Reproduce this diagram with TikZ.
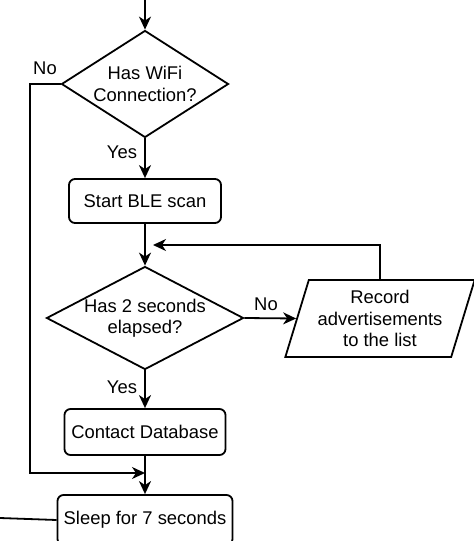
\documentclass[tikz,border=0pt]{standalone}
\usepackage{fontspec}
\setmainfont{Liberation Sans}
\usetikzlibrary{shapes.geometric,arrows.meta}
\tikzset{line/.style={line width=1.8pt}}
\tikzset{flow/.style={line width=1.8pt, -{Stealth[length=13pt,width=12pt,inset=4pt]}}}
\tikzset{decision/.style={draw, diamond, line width=1.8pt, inner sep=0pt, align=center}}
\tikzset{process/.style={draw, rectangle, rounded corners=6pt, line width=1.8pt, align=center}}
\tikzset{record/.style={draw, trapezium, trapezium left angle=73, trapezium right angle=107, line width=1.8pt, inner xsep=-10pt, inner ysep=0pt, align=center}}

\begin{document}
\begin{tikzpicture}[x=1pt, y=-1pt, font=\fontsize{18.4}{21.5}\selectfont]%{{{
        \useasboundingbox (0,0) rectangle (474,541);
        \clip (0,0) rectangle (474,541);

        \node[decision, aspect=1.56, minimum width=167pt, minimum height=107pt] (wifi) at (145,84) {Has WiFi\\Connection?};
        \node[process, minimum width=152pt, minimum height=44pt] (scan) at (145,201) {Start BLE scan};
        \node[decision, aspect=1.91, minimum width=197pt, minimum height=103pt] (elapsed) at (145,318) {Has 2 seconds\\elapsed?};
        \node[record, minimum width=169pt, minimum height=77pt] (rec) at (380,318.5) {Record\\advertisements\\to the list};
        \node[process, minimum width=161pt, minimum height=46pt] (db) at (145,432) {Contact Database};
        \node[process, minimum width=175pt, minimum height=50pt] (sleep) at (145,520) {Sleep for 7 seconds};

        \node (no1) at (45,68) {No};
        \node (yes1) at (122,152) {Yes};
        \node (no2) at (266,304) {No};
        \node (yes2) at (122,387) {Yes};

        \coordinate (entry) at (145,-5);
        \coordinate (join) at (145,473);
        \coordinate (loop) at (153,245);
        \coordinate (offleft) at (0,518);

        \draw [flow] (entry) -- (wifi.north);
        \draw [flow] (wifi.south) -- (scan.north);
        \draw [flow] (scan.south) -- (elapsed.north);
        \draw [flow] (elapsed.east) -- (rec.west);
        \draw [flow] (rec.north) |- (loop);
        \draw [flow] (elapsed.south) -- (db.north);
        \draw [flow] (db.south) -- (sleep.north);
        \draw [flow] (wifi.west) -- ++(-31,0) |- (join);
        \draw [line] (offleft) -- (sleep.west);

    \end{tikzpicture}
\end{document}
